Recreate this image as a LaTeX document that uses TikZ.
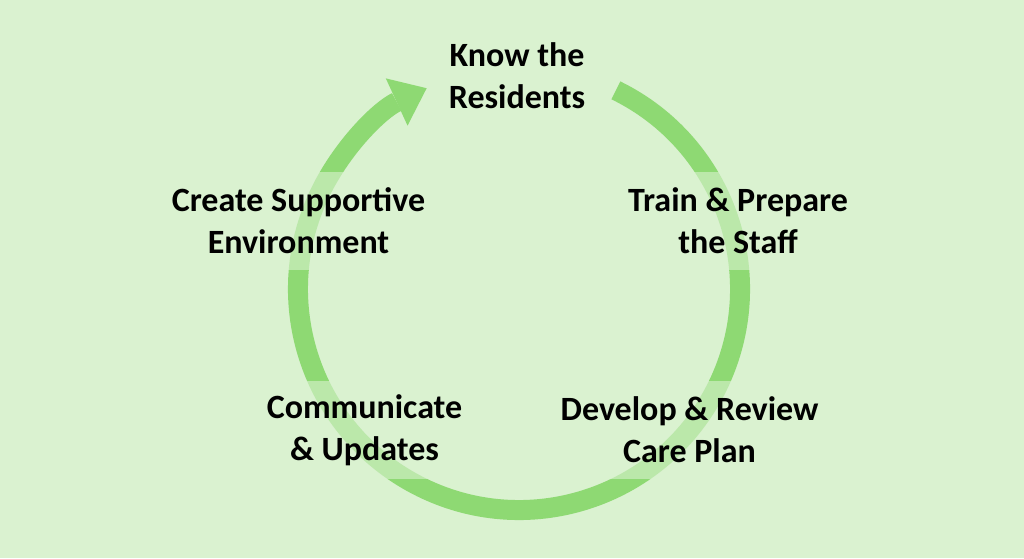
\documentclass[tikz,border=0pt]{standalone}
\usepackage{fontspec}
\setmainfont{Carlito}
\usetikzlibrary{arrows.meta, positioning, calc}
\definecolor{bggreen}{HTML}{DAF2D0}
\definecolor{ringgreen}{HTML}{8ED973}

\begin{document}
\begin{tikzpicture}[x=1pt, y=1pt,
  lbl/.style={fill=bggreen, fill opacity=0.6, text opacity=1, align=center,
    font=\bfseries\fontsize{34}{42}\selectfont, minimum height=98pt, inner xsep=8pt},
  ring/.style={draw=ringgreen, line width=20pt,
    -{Triangle[width=52pt, length=33pt, line width=0pt 0 0]}}
]
\fill[bggreen] (0,0) rectangle (1024,558);
\coordinate (c) at (519,269);

% the cycle
\draw[ring] ($(c)+(64:221)$) arc[start angle=64, end angle=-245.3, radius=221];

\node[lbl] (know) at (517,482) {Know the\\Residents};
\node[lbl] (train) at (738,337) {Train \& Prepare\\the Staff};
\node[lbl] (develop) at (689.5,128) {Develop \& Review\\Care Plan};
\node[lbl] (comm) at (364.5,128) {Communicate\\\& Updates};
\node[lbl] (create) at (298.5,337) {Create Supportive\\Environment};
\end{tikzpicture}
\end{document}
